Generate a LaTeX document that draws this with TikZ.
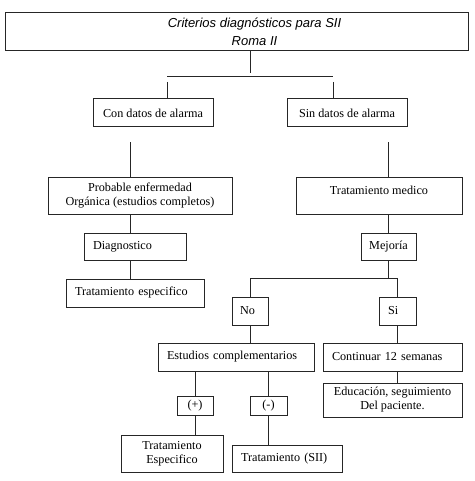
\documentclass[tikz,border=0pt]{standalone}
\usepackage{fontspec}
\setmainfont{Liberation Serif}
\newfontfamily\manuscrita{Liberation Sans}
\usetikzlibrary{calc}

\tikzset{
  caja/.style={draw=black!85, line width=1pt, rectangle, inner sep=0pt,
    font=\fontsize{12.2}{14}\selectfont},
  izq/.style={caja, inner xsep=9pt, align=left},
  linea/.style={draw=black!85, line width=1pt}
}

\begin{document}
\begin{tikzpicture}[x=1pt, y=-1pt]
    \useasboundingbox (0,0) rectangle (474,481);

    % cajas
    \node [caja, minimum width=463pt, minimum height=38pt, align=center,
      font=\manuscrita\itshape\fontsize{13}{18}\selectfont] (titulo) at (236.5,32)
      {\hspace*{36pt}Criterios diagnósticos para SII\\\hspace*{36pt}Roma II};
    \node [caja, minimum width=120pt, minimum height=28pt] (con) at (153,113) {Con datos de alarma};
    \node [caja, minimum width=120pt, minimum height=28pt] (sin) at (347,113) {Sin datos de alarma};
    \node [caja, minimum width=184pt, minimum height=37pt, align=center] (prob) at (140,195.5)
      {Probable enfermedad\\Orgánica (estudios completos)};
    \node [caja, minimum width=166pt, text height=17pt, text depth=20pt] (trmed) at (379,195.5) {Tratamiento medico};
    \node [izq, text width=84pt, minimum height=27pt] (diag) at (135,246.5) {Diagnostico};
    \node [caja, minimum width=55pt, minimum height=27pt] (mej) at (388.5,246.5) {Mejoría};
    \node [izq, text width=120pt, minimum height=28pt] (tresp) at (135,293) {Tratamiento especifico};
    \node [izq, inner xsep=8pt, text width=20pt, minimum height=28pt] (no) at (250,311) {No};
    \node [izq, text width=19pt, minimum height=28pt] (si) at (397.5,311) {Si};
    \node [izq, text width=138pt, minimum height=28pt] (est) at (236,357) {Estudios complementarios};
    \node [izq, text width=121pt, minimum height=28pt] (cont) at (392.5,357) {Continuar 12 semanas};
    \node [caja, minimum width=139pt, minimum height=34pt, align=center] (edu) at (392.5,400)
      {Educación, seguimiento\\Del paciente.};
    \node [caja, minimum width=36pt, minimum height=19pt] (mas) at (195,405.5) {(+)};
    \node [caja, minimum width=37pt, minimum height=19pt] (menos) at (268.5,405.5) {(-)};
    \node [caja, minimum width=102pt, minimum height=37pt, align=center] (tesp) at (172,453.5)
      {Tratamiento\\Especifico};
    \node [izq, text width=92pt, minimum height=27pt] (tsii) at (287,458.5) {Tratamiento (SII)};

    % puntos de union
    \coordinate (centro) at (250,77);
    \coordinate (ramaL) at (167,77);
    \coordinate (ramaR) at (333,77);
    \coordinate (colL) at (130,0);
    \coordinate (colR) at (388,0);
    \coordinate (bifR) at (397,278);

    % lineas
    \draw [linea, shorten >=4pt] (titulo.south -| centro) -- (centro);
    \draw [linea] (ramaL) -- (ramaR);
    \draw [linea, shorten <=5pt] (ramaL) -- (con.north -| ramaL);
    \draw [linea, shorten <=5pt] (ramaR) -- (sin.north -| ramaR);
    \draw [linea, shorten <=15pt] (con.south -| colL) -- (prob.north -| colL);
    \draw [linea, shorten <=15pt] (sin.south -| colR) -- (trmed.north -| colR);
    \draw [linea] (prob.south -| colL) -- (diag.north -| colL);
    \draw [linea] (diag.south -| colL) -- (tresp.north -| colL);
    \draw [linea] (trmed.south -| colR) -- (mej.north -| colR);
    \draw [linea] (mej.south -| colR) -- (colR |- bifR);
    \draw [linea] (no.north) |- (bifR) -- (si.north -| bifR);
    \draw [linea] (no.south) -- (est.north -| no.south);
    \draw [linea] (si.south -| bifR) -- (cont.north -| bifR);
    \draw [linea] (cont.south -| bifR) -- (edu.north -| bifR);
    \draw [linea] (est.south -| mas.north) -- (mas.north);
    \draw [linea] (est.south -| menos.north) -- (menos.north);
    \draw [linea] (mas.south) -- (tesp.north -| mas.south);
    \draw [linea] (menos.south) -- (tsii.north -| menos.south);
\end{tikzpicture}
\end{document}
